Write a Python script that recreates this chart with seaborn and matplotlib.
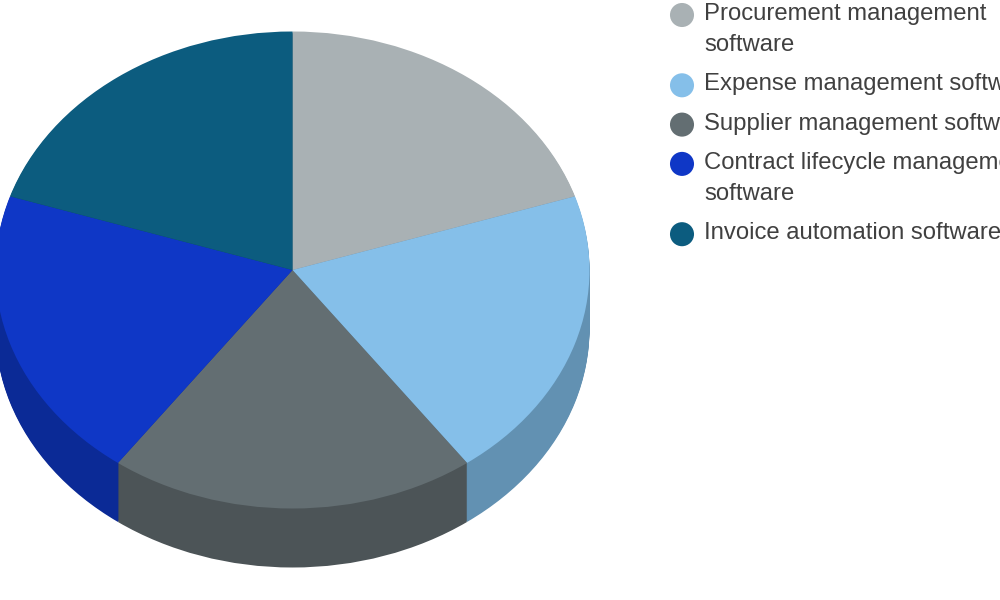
import numpy as np
import pandas as pd
import matplotlib
matplotlib.use('Agg')
import matplotlib.pyplot as plt
import seaborn as sns

# Legend labels, with the line breaks of the reference
labels = [
    'Procurement management\nsoftware',
    'Expense management software',
    'Supplier management software',
    'Contract lifecycle management\nsoftware',
    'Invoice automation software',
]
shares = [20, 20, 20, 20, 20]
top_colors = ['#a9b1b4', '#85bfe9', '#636e72', '#0f37c6', '#0c5c7f']
side_colors = ['#808688', '#6291b2', '#4c5457', '#0b2a96', '#094661']

sns.set_theme(style='white')
plt.rcParams['font.family'] = ['Liberation Sans', 'DejaVu Sans']

fig = plt.figure(figsize=(10, 6), dpi=100)

# Pie axes: one data unit is one radius, so the circle is squashed to an ellipse
center_x, center_y = 292.5, 270
radius_x, radius_y = 297, 238.5
depth = 59

ax = fig.add_axes([0, 0, 1, 1])

# Stack darker copies of the pie to get the side wall
for offset in np.arange(depth, 0, -1):
    ax.pie(shares, colors=side_colors, startangle=90, counterclock=False,
           center=(0, -offset / radius_y), wedgeprops={'linewidth': 0})

ax.pie(shares, colors=top_colors, startangle=90, counterclock=False,
       center=(0, 0), wedgeprops={'linewidth': 0})

ax.set_aspect('auto')
ax.set_xlim(-center_x / radius_x, (1000 - center_x) / radius_x)
ax.set_ylim((center_y - 600) / radius_y, center_y / radius_y)
ax.axis('off')

# Legend axes in plain pixels
leg = fig.add_axes([0, 0, 1, 1])
leg.patch.set_alpha(0)

rows = []
y = 15
for label in labels:
    rows.append(y)
    y += 39.3 + 31 * label.count('\n')

legend_df = pd.DataFrame({'x': 682, 'y': rows, 'label': labels})
sns.scatterplot(data=legend_df, x='x', y='y', hue='label', palette=top_colors,
                s=300, linewidth=0, legend=False, ax=leg, clip_on=False)

for label, row in zip(labels, rows):
    for i, line in enumerate(label.split('\n')):
        leg.text(704, row - 1 + 31 * i, line, fontsize=17.2, color='#404040',
                 va='center', ha='left')

leg.set_xlim(0, 1000)
leg.set_ylim(600, 0)
leg.axis('off')

fig.savefig('out.png', dpi=100)
